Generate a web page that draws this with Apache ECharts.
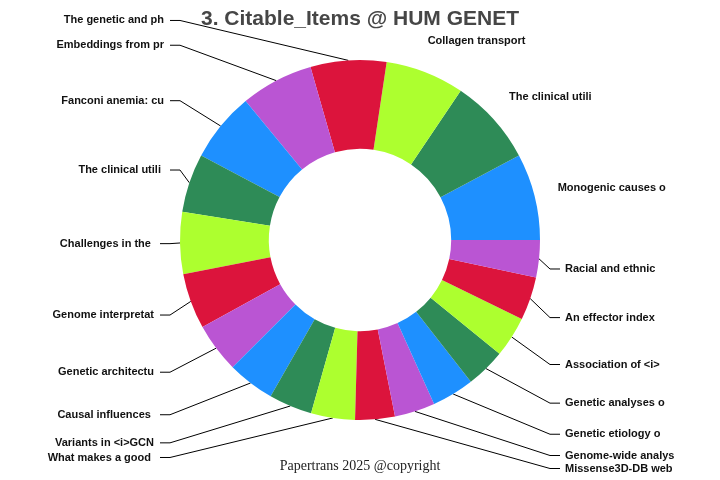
<!DOCTYPE html>
<html>
<head>
<meta charset="utf-8">
<script src="https://cdn.jsdelivr.net/npm/echarts@6/dist/echarts.min.js"></script>
<style>html,body{margin:0;padding:0;background:#fff}#c{width:720px;height:480px}</style>
</head>
<body>
<div id="c"></div>
<script>
var titleText = '3. Citable_Items @ HUM GENET';
var footerText = 'Papertrans 2025 @copyright';
var names = [
  'Monogenic causes o', 'The clinical utili', 'Collagen transport', 'The genetic and ph',
  'Embeddings from pr', 'Fanconi anemia: cu', 'The clinical utili ', 'Challenges in the ',
  'Genome interpretat', 'Genetic architectu', 'Causal influences ', 'Variants in <i>GCN',
  'What makes a good ', 'Missense3D-DB web ', 'Genome-wide analys', 'Genetic etiology o',
  'Genetic analyses o', 'Association of <i>', 'An effector index ', 'Racial and ethnic '
];
var values = [28, 28, 25.5, 24.5, 23.5, 22.5, 19, 20, 18, 16, 15.3, 14, 14.2, 12.8, 13.1, 13.7, 12.8, 13.2, 14, 12];
var colors = ['#1E90FF', '#2E8B57', '#ADFF2F', '#DC143C', '#BA55D3'];

var OUTER = 0.75, INNER = 0.38;
var total = values.reduce(function (a, b) { return a + b; }, 0);
var mids = [];
(function () {
  var cum = 0;
  values.forEach(function (v) { mids.push((cum + v / 2) / total * 2 * Math.PI); cum += v; });
})();

var chart = echarts.init(document.getElementById('c'), null, {renderer: 'canvas'});

var layoutCache = null;
function computeLabels() {
  if (layoutCache) return layoutCache;
  var w = chart.getWidth(), h = chart.getHeight();
  var cx = w / 2, cy = h / 2, r = Math.min(w, h) / 2 * OUTER;
  var items = mids.map(function (a, i) {
    var c = Math.cos(a), s = Math.sin(a);
    var left = c < 0, upper = s > 0;
    var ext = (!left && upper) ? 34 : 40;
    return {i: i, left: left, upper: upper, c: c, s: s,
      x0: cx + r * c, y0: cy - r * s, y: cy - (r + ext) * s, ext: ext};
  });
  [true, false].forEach(function (side) {
    var list = items.filter(function (it) { return it.left === side && (side || !it.upper); })
      .sort(function (a, b) { return a.y - b.y; });
    for (var k = 1; k < list.length; k++) {
      if (list[k].y < list[k - 1].y + 13) list[k].y = list[k - 1].y + 13;
    }
    if (!side) list.forEach(function (it) { it.y += 6; });
    var over = list.length ? list[list.length - 1].y - (h - 8) : 0;
    if (over > 0) list.forEach(function (it) { it.y -= over; });
  });
  items.forEach(function (it) {
    var p2;
    if (it.left) {
      p2 = cx - r - (it.upper ? 10 : 20);
      it.line = [[it.x0, it.y0], [p2 + 10, it.y], [p2, it.y]];
      it.tx = p2 - 6; it.align = 'right';
    } else if (!it.upper) {
      p2 = cx + r + 20;
      it.line = [[it.x0, it.y0], [p2 - 10, it.y], [p2, it.y]];
      it.tx = p2 + 5; it.align = 'left';
    } else {
      it.line = null;
      it.tx = cx + (r + it.ext) * it.c - 10; it.align = 'left';
    }
  });
  layoutCache = items;
  return items;
}

var data = names.map(function (n, i) {
  var a = mids[i];
  var noLine = Math.cos(a) >= 0 && Math.sin(a) > 0;
  var d = {name: n, value: values[i]};
  if (noLine) d.labelLine = {show: false};
  return d;
});

chart.setOption({
  animation: false,
  color: colors,
  title: {
    text: titleText, left: 'center', top: 4,
    textStyle: {fontSize: 21, fontWeight: 'bold', color: '#464646', fontFamily: 'Liberation Sans, Arial, sans-serif'}
  },
  graphic: [{
    type: 'text', left: 'center', top: 459,
    style: {text: footerText, font: '14px "Liberation Serif", "Times New Roman", serif', fill: '#222'}
  }],
  series: [{
    type: 'pie',
    radius: [(INNER * 100) + '%', (OUTER * 100) + '%'],
    center: ['50%', '50%'],
    startAngle: 0,
    clockwise: false,
    avoidLabelOverlap: false,
    data: data,
    label: {
      show: true, position: 'outer',
      color: '#111', fontSize: 11, fontWeight: 'bold', fontFamily: 'Liberation Sans, Arial, sans-serif'
    },
    labelLine: {show: true, length: 10, length2: 10, lineStyle: {color: '#000', width: 1}},
    labelLayout: function (params) {
      var it = computeLabels()[params.dataIndex];
      var res = {x: it.tx, y: it.y, align: it.align, verticalAlign: 'middle'};
      if (it.line) res.labelLinePoints = it.line;
      return res;
    }
  }]
});
</script>
</body>
</html>
